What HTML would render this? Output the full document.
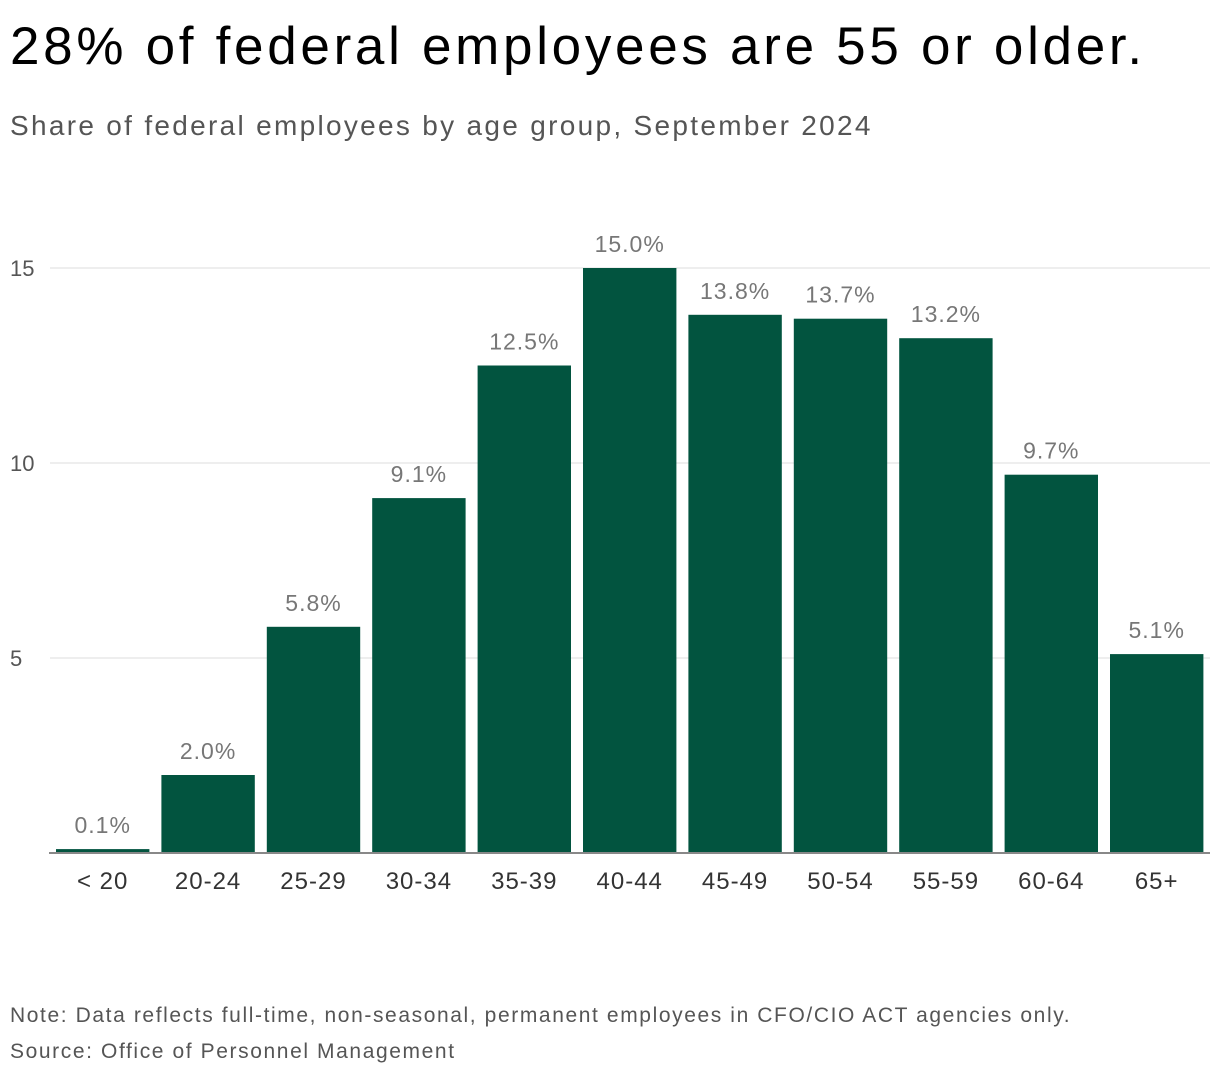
<!DOCTYPE html>
<html><head><meta charset="utf-8"><style>
body{margin:0;background:#fff;width:1220px;height:1080px;overflow:hidden;font-family:"Liberation Sans",sans-serif}
.t{position:absolute;left:10px;top:16px;font-size:53px;color:#000;letter-spacing:3.7px;white-space:nowrap}
.s{position:absolute;left:10px;top:110px;font-size:28px;color:#555;letter-spacing:2.3px;white-space:nowrap}
.n{position:absolute;left:10px;font-size:21px;color:#555;letter-spacing:1.6px;white-space:nowrap}
</style></head><body>
<div class="t">28% of federal employees are 55 or older.</div>
<div class="s">Share of federal employees by age group, September 2024</div>
<svg id="c" width="1220" height="1080" style="position:absolute;left:0;top:0"></svg>
<div class="n" style="top:1004px">Note: Data reflects full-time, non-seasonal, permanent employees in CFO/CIO ACT agencies only.</div>
<div class="n" style="top:1040px">Source: Office of Personnel Management</div>
<script>
const categories=["< 20","20-24","25-29","30-34","35-39","40-44","45-49","50-54","55-59","60-64","65+"];
const values=[0.1,2.0,5.8,9.1,12.5,15.0,13.8,13.7,13.2,9.7,5.1];
const ticks=[5,10,15];
const svg=document.getElementById('c');const NS='http://www.w3.org/2000/svg';
const x0=50,bw=105.4,pad=6,yb=853,ppu=39;
const y=v=>yb-v*ppu;const x=i=>x0+i*bw;
function mk(t,a,txt){const e=document.createElementNS(NS,t);for(const k in a)e.setAttribute(k,a[k]);if(txt!=null)e.textContent=txt;svg.appendChild(e);return e;}
ticks.forEach(t=>{
const g=mk('line',{x1:50,x2:1210,y1:y(t),y2:y(t),stroke:'#ddd','stroke-width':1});


const l=mk('text',{x:10,y:y(t)+8,'font-size':22,fill:'#555','font-family':'Liberation Sans, sans-serif'},String(t));


});
values.forEach((v,i)=>{
const r=mk('rect',{x:x(i)+pad,y:y(v),width:bw-2*pad,height:v*ppu,fill:'#02543f'});


const lb=mk('text',{x:x(i)+bw/2,y:y(v)-16,'text-anchor':'middle','font-size':23,'letter-spacing':1,fill:'#777','font-family':'Liberation Sans, sans-serif'},v.toFixed(1)+'%');


const c=mk('text',{x:x(i)+bw/2,y:yb+36,'text-anchor':'middle','font-size':24,'letter-spacing':1,fill:'#333','font-family':'Liberation Sans, sans-serif'},categories[i]);


});
const ax=mk('line',{x1:49,x2:1210,y1:yb,y2:yb,stroke:'#888','stroke-width':2});


</script>
</body></html>
